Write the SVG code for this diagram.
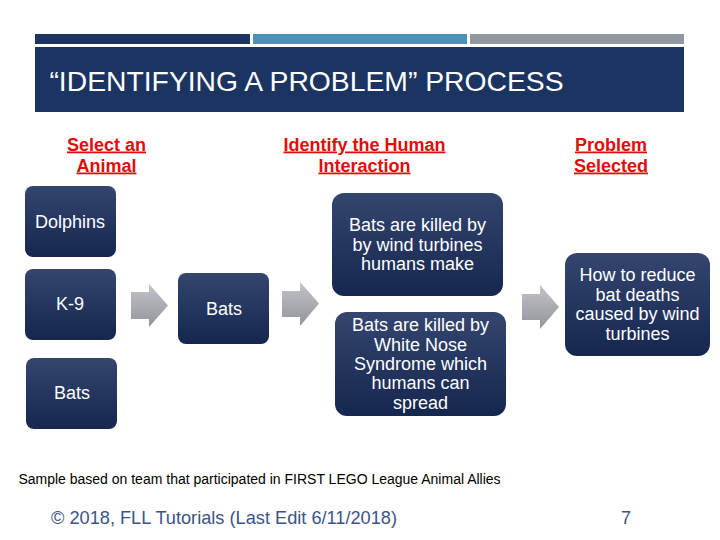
<svg xmlns="http://www.w3.org/2000/svg" width="720" height="540" viewBox="0 0 720 540">
<style>
text{font-family:"Liberation Sans",Arial,sans-serif;text-anchor:middle}
.n rect{fill:url(#nodeFill)}
.n text{fill:#fff;font-size:18px}
.h{fill:#e00d0d;font-size:18px;font-weight:bold;text-decoration:underline}
.a{fill:url(#arrowFill)}
</style>
<defs>
<linearGradient id="nodeFill" x1="0" y1="0" x2="0" y2="1"><stop offset="0" stop-color="#34466f"/><stop offset="1" stop-color="#15274f"/></linearGradient>
<linearGradient id="arrowFill" x1="0" y1="0" x2="0" y2="1"><stop offset="0" stop-color="#c3c4c9"/><stop offset="1" stop-color="#93949b"/></linearGradient>
</defs>
<rect width="720" height="540" fill="#fff"/>
<g id="header">
<rect x="35" y="34" width="215" height="10" fill="#1c3461"/>
<rect x="253" y="34" width="214" height="10" fill="#4a92b8"/>
<rect x="470" y="34" width="214" height="10" fill="#9298a0"/>
<rect x="35" y="47" width="649" height="65" fill="#1c3461"/>
<text x="306.500" y="90.500" font-size="28.300" fill="#fff">“IDENTIFYING A PROBLEM” PROCESS</text>
</g>
<g id="headings">
<text class="h" x="106.500" y="150.500">Select an</text>
<text class="h" x="106.500" y="171.500">Animal</text>
<text class="h" x="364.500" y="150.500">Identify the Human</text>
<text class="h" x="364.500" y="171.500">Interaction</text>
<text class="h" x="611" y="150.500">Problem</text>
<text class="h" x="611" y="171.500">Selected</text>
</g>
<g id="connectors">
<path class="a" d="M131 292H149V284L168 305.500L149 327V319H131Z"/>
<path class="a" d="M282 291H300V282L319 303.500L300 326V317H282Z"/>
<path class="a" d="M522 294H540V285L559 307L540 329V320H522Z"/>
</g>
<g id="node-dolphins" class="n"><rect x="25" y="186" width="91" height="71" rx="8"/><text x="70" y="227.500">Dolphins</text></g>
<g id="node-k9" class="n"><rect x="25" y="269" width="91" height="71" rx="8"/><text x="70" y="309.500">K-9</text></g>
<g id="node-bats-list" class="n"><rect x="26" y="358" width="91" height="71" rx="8"/><text x="72" y="398.500">Bats</text></g>
<g id="node-bats" class="n"><rect x="178" y="273" width="91" height="71" rx="8"/><text x="224" y="314.500">Bats</text></g>
<g id="node-wind" class="n"><rect x="332" y="193" width="171" height="103" rx="12"/><text x="417.500" y="230.500">Bats are killed by</text><text x="417.500" y="250.500">by wind turbines</text><text x="417.500" y="269.500">humans make</text></g>
<g id="node-wns" class="n"><rect x="335" y="312" width="171" height="104" rx="12"/><text x="420.500" y="330.500">Bats are killed by</text><text x="420.500" y="350.500">White Nose</text><text x="420.500" y="369.500">Syndrome which</text><text x="420.500" y="388.500">humans can</text><text x="420.500" y="408.500">spread</text></g>
<g id="node-problem" class="n"><rect x="565" y="253" width="145" height="103" rx="12"/><text x="637.500" y="280.500">How to reduce</text><text x="637.500" y="300.500">bat deaths</text><text x="637.500" y="319.500">caused by wind</text><text x="637.500" y="339.500">turbines</text></g>
<g id="footer">
<text x="259.500" y="484" font-size="14" fill="#000">Sample based on team that participated in FIRST LEGO League Animal Allies</text>
<text x="224" y="523.500" font-size="18.200" fill="#3b5488">© 2018, FLL Tutorials (Last Edit 6/11/2018)</text>
<text x="626" y="523.500" font-size="18" fill="#3b5488">7</text>
</g>
</svg>
